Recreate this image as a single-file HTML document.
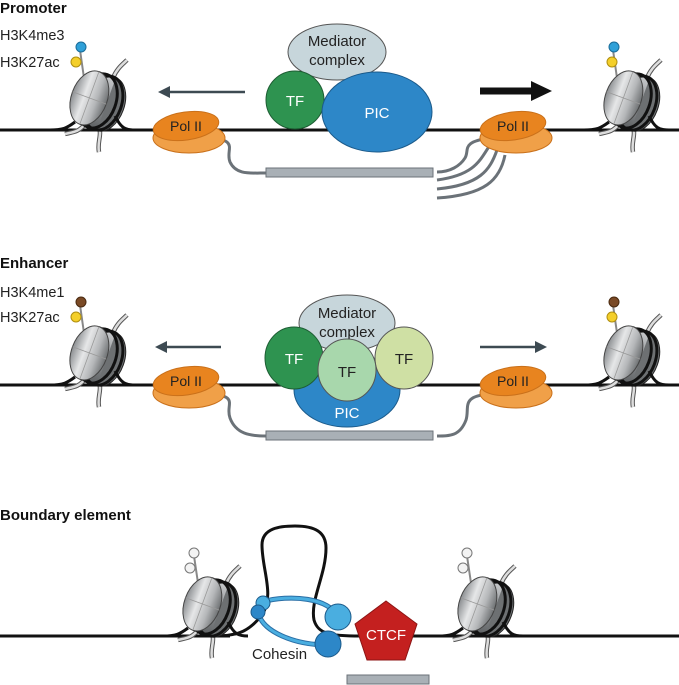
<!DOCTYPE html>
<html><head><meta charset="utf-8"><style>
html,body{margin:0;padding:0;background:#fff;}
svg{display:block;font-family:"Liberation Sans",sans-serif;}
</style></head><body>
<svg width="679" height="685" viewBox="0 0 679 685" xmlns="http://www.w3.org/2000/svg">
<defs>
<linearGradient id="nuc" x1="0" y1="0" x2="1" y2="0">
<stop offset="0" stop-color="#8a8d90"/><stop offset="0.35" stop-color="#e6e7e8"/><stop offset="0.7" stop-color="#b5b7b9"/><stop offset="1" stop-color="#6d7072"/>
</linearGradient>
<linearGradient id="side" x1="0" y1="0" x2="0" y2="1">
<stop offset="0" stop-color="#c9cbcd"/><stop offset="0.5" stop-color="#8f9295"/><stop offset="1" stop-color="#5d6062"/>
</linearGradient>
<g id="nucl">
<path d="M-10,-6 C-16,2 -22,2 -30,4" stroke="#555" stroke-width="4.5" fill="none"/>
<path d="M-10,-6 C-16,2 -22,2 -30,4" stroke="#ddd" stroke-width="2.5" fill="none"/>
<path d="M18,-52 C22,-62 28,-66 32,-70" stroke="#555" stroke-width="4.5" fill="none"/>
<path d="M18,-52 C22,-62 28,-66 32,-70" stroke="#ddd" stroke-width="2.5" fill="none"/>
<path d="M4,-4 C7,6 2,12 4,22" stroke="#555" stroke-width="4.5" fill="none"/>
<path d="M4,-4 C7,6 2,12 4,22" stroke="#ddd" stroke-width="2.5" fill="none"/>
<g transform="rotate(20 0 -30)">
<ellipse cx="12" cy="-30" rx="18" ry="28" fill="#6d7072" stroke="#222" stroke-width="1"/>
<rect x="-6" y="-58" width="18" height="56" fill="url(#side)"/>
<line x1="-6" y1="-58" x2="12" y2="-58" stroke="#333"/>
<line x1="-6" y1="-2" x2="12" y2="-2" stroke="#333"/>
<ellipse cx="9" cy="-30" rx="18" ry="28" fill="none" stroke="#111" stroke-width="3"/>
<ellipse cx="3" cy="-30" rx="18" ry="28" fill="none" stroke="#111" stroke-width="3"/>
<ellipse cx="-6" cy="-30" rx="18" ry="28" fill="url(#nuc)" stroke="#444" stroke-width="1"/>
<line x1="-6" y1="-58" x2="-6" y2="-2" stroke="#999" stroke-width="0.8"/>
<line x1="-24" y1="-30" x2="12" y2="-30" stroke="#999" stroke-width="0.8"/>
</g>
<path d="M-45,0 C-32,0 -28,-2 -20,-8" stroke="#111" stroke-width="3" fill="none"/>
<path d="M20,-14 C26,-2 30,0 40,0" stroke="#111" stroke-width="3" fill="none"/>
</g>
<g id="pol">
<ellipse cx="3" cy="8" rx="36" ry="15" fill="#f0a048" stroke="#c9701a" stroke-width="1"/>
<ellipse cx="0" cy="-4" rx="33" ry="14" transform="rotate(-8 0 -4)" fill="#e8841f" stroke="#c9701a" stroke-width="1"/>
<text x="0" y="1" font-size="14" text-anchor="middle" fill="#222">Pol II</text>
</g>
</defs>

<text x="0" y="13" font-size="15" font-weight="bold" fill="#111">Promoter</text>
<text x="0" y="40" font-size="14.5" fill="#222">H3K4me3</text>
<text x="0" y="67" font-size="14.5" fill="#222">H3K27ac</text>
<line x1="0" y1="130" x2="679" y2="130" stroke="#111" stroke-width="3"/>
<line x1="80" y1="50" x2="84" y2="78" stroke="#888" stroke-width="2"/>
<circle cx="81" cy="47" r="5" fill="#2fa0d8" stroke="#1a6c99"/>
<circle cx="76" cy="62" r="5" fill="#f4cf2a" stroke="#b08f10"/>
<use href="#nucl" x="95" y="130"/>
<line x1="613" y1="50" x2="617" y2="78" stroke="#888" stroke-width="2"/>
<circle cx="614" cy="47" r="5" fill="#2fa0d8" stroke="#1a6c99"/>
<circle cx="612" cy="62" r="5" fill="#f4cf2a" stroke="#b08f10"/>
<use href="#nucl" x="629" y="130"/>
<line x1="245" y1="92" x2="165" y2="92" stroke="#3d4a52" stroke-width="2.5"/>
<polygon points="158,92 170,86 170,98" fill="#3d4a52"/>
<line x1="480" y1="91" x2="535" y2="91" stroke="#111" stroke-width="7"/>
<polygon points="552,91 531,81 531,101" fill="#111"/>
<path d="M210,138 C240,140 225,150 230,162 C236,175 250,173 266,173" stroke="#6b7278" stroke-width="3" fill="none"/>
<path d="M490,138 C460,142 470,150 465,158 C460,166 450,172 437,172" stroke="#6b7278" stroke-width="3" fill="none"/>
<path d="M490,145 C480,160 475,175 437,180" stroke="#6b7278" stroke-width="3" fill="none"/>
<path d="M497,150 C490,170 480,185 437,189" stroke="#6b7278" stroke-width="3" fill="none"/>
<path d="M505,155 C500,180 485,195 437,198" stroke="#6b7278" stroke-width="3" fill="none"/>
<use href="#pol" x="186" y="130"/>
<use href="#pol" x="513" y="130"/>
<rect x="266" y="168" width="167" height="9" fill="#a9b0b6" stroke="#6b7278"/>
<ellipse cx="337" cy="52" rx="49" ry="28" fill="#c7d6db" stroke="#555"/>
<text x="337" y="46" font-size="15" text-anchor="middle" fill="#222">Mediator</text>
<text x="337" y="65" font-size="15" text-anchor="middle" fill="#222">complex</text>
<circle cx="295" cy="100" r="29" fill="#2e9350" stroke="#1d5d33"/>
<text x="295" y="106" font-size="15" text-anchor="middle" fill="#fff">TF</text>
<ellipse cx="377" cy="112" rx="55" ry="40" fill="#2d87c8" stroke="#1b5a8a"/>
<text x="377" y="118" font-size="15" text-anchor="middle" fill="#fff">PIC</text>

<text x="0" y="268" font-size="15" font-weight="bold" fill="#111">Enhancer</text>
<text x="0" y="297" font-size="14.5" fill="#222">H3K4me1</text>
<text x="0" y="322" font-size="14.5" fill="#222">H3K27ac</text>
<line x1="0" y1="385" x2="679" y2="385" stroke="#111" stroke-width="3"/>
<line x1="80" y1="305" x2="84" y2="333" stroke="#888" stroke-width="2"/>
<circle cx="81" cy="302" r="5" fill="#7a4a26" stroke="#4a2a10"/>
<circle cx="76" cy="317" r="5" fill="#f4cf2a" stroke="#b08f10"/>
<use href="#nucl" x="95" y="385"/>
<line x1="613" y1="305" x2="617" y2="333" stroke="#888" stroke-width="2"/>
<circle cx="614" cy="302" r="5" fill="#7a4a26" stroke="#4a2a10"/>
<circle cx="612" cy="317" r="5" fill="#f4cf2a" stroke="#b08f10"/>
<use href="#nucl" x="629" y="385"/>
<line x1="221" y1="347" x2="162" y2="347" stroke="#3d4a52" stroke-width="2.5"/>
<polygon points="155,347 167,341 167,353" fill="#3d4a52"/>
<line x1="480" y1="347" x2="540" y2="347" stroke="#3d4a52" stroke-width="2.5"/>
<polygon points="547,347 535,341 535,353" fill="#3d4a52"/>
<path d="M210,394 C240,396 225,405 230,418 C236,434 250,436 266,436" stroke="#6b7278" stroke-width="3" fill="none"/>
<path d="M490,394 C460,396 470,408 466,420 C460,436 450,436 437,436" stroke="#6b7278" stroke-width="3" fill="none"/>
<use href="#pol" x="186" y="385"/>
<use href="#pol" x="513" y="385"/>
<rect x="266" y="431" width="167" height="9" fill="#a9b0b6" stroke="#6b7278"/>
<ellipse cx="347" cy="323" rx="48" ry="28" fill="#c7d6db" stroke="#555"/>
<text x="347" y="318" font-size="15" text-anchor="middle" fill="#222">Mediator</text>
<text x="347" y="337" font-size="15" text-anchor="middle" fill="#222">complex</text>
<ellipse cx="347" cy="390" rx="53" ry="37" fill="#2d87c8" stroke="#1b5a8a"/>
<text x="347" y="418" font-size="15" text-anchor="middle" fill="#fff">PIC</text>
<ellipse cx="294" cy="358" rx="29" ry="31" fill="#2e9350" stroke="#1d5d33"/>
<text x="294" y="364" font-size="15" text-anchor="middle" fill="#fff">TF</text>
<ellipse cx="404" cy="358" rx="29" ry="31" fill="#cfe0a4" stroke="#555"/>
<text x="404" y="364" font-size="15" text-anchor="middle" fill="#222">TF</text>
<ellipse cx="347" cy="370" rx="29" ry="31" fill="#a8d7ac" stroke="#555"/>
<text x="347" y="377" font-size="15" text-anchor="middle" fill="#222">TF</text>

<text x="0" y="520" font-size="15" font-weight="bold" fill="#111">Boundary element</text>
<line x1="0" y1="636" x2="230" y2="636" stroke="#111" stroke-width="3"/>
<line x1="405" y1="636" x2="679" y2="636" stroke="#111" stroke-width="3"/>
<path d="M215,636 C240,636 250,630 262,615 C275,595 262,570 262,545 C262,528 280,526 295,526 C315,526 326,532 326,548 C326,575 310,600 314,620 C318,634 330,636 360,636" stroke="#111" stroke-width="3" fill="none"/>
<line x1="194" y1="556" x2="198" y2="583" stroke="#888" stroke-width="2"/>
<circle cx="194" cy="553" r="5" fill="#f3f3f3" stroke="#777"/>
<circle cx="190" cy="568" r="5" fill="#f3f3f3" stroke="#777"/>
<use href="#nucl" x="208" y="636"/>
<line x1="467" y1="556" x2="471" y2="583" stroke="#888" stroke-width="2"/>
<circle cx="467" cy="553" r="5" fill="#f3f3f3" stroke="#777"/>
<circle cx="463" cy="568" r="5" fill="#f3f3f3" stroke="#777"/>
<use href="#nucl" x="483" y="636"/>
<path d="M262,602 C290,594 330,598 338,617" stroke="#2a6fa6" stroke-width="5" fill="none"/>
<path d="M262,602 C290,594 330,598 338,617" stroke="#4aaee0" stroke-width="3" fill="none"/>
<path d="M258,612 C262,632 295,645 328,645" stroke="#2a6fa6" stroke-width="5" fill="none"/>
<path d="M258,612 C262,632 295,645 328,645" stroke="#4aaee0" stroke-width="3" fill="none"/>
<circle cx="263" cy="603" r="7" fill="#4aaee0" stroke="#1b5a8a"/>
<circle cx="258" cy="612" r="7" fill="#2d87c8" stroke="#1b5a8a"/>
<circle cx="338" cy="617" r="13" fill="#4aaee0" stroke="#1b5a8a"/>
<circle cx="328" cy="644" r="13" fill="#2d87c8" stroke="#1b5a8a"/>
<text x="252" y="659" font-size="15" fill="#222">Cohesin</text>
<polygon points="386,601 417,624 405,660 367,660 355,624" fill="#c4201f" stroke="#8c1515"/>
<text x="386" y="640" font-size="15" text-anchor="middle" fill="#fff">CTCF</text>
<rect x="347" y="675" width="82" height="9" fill="#a9b0b6" stroke="#6b7278"/>
</svg>
</body></html>
